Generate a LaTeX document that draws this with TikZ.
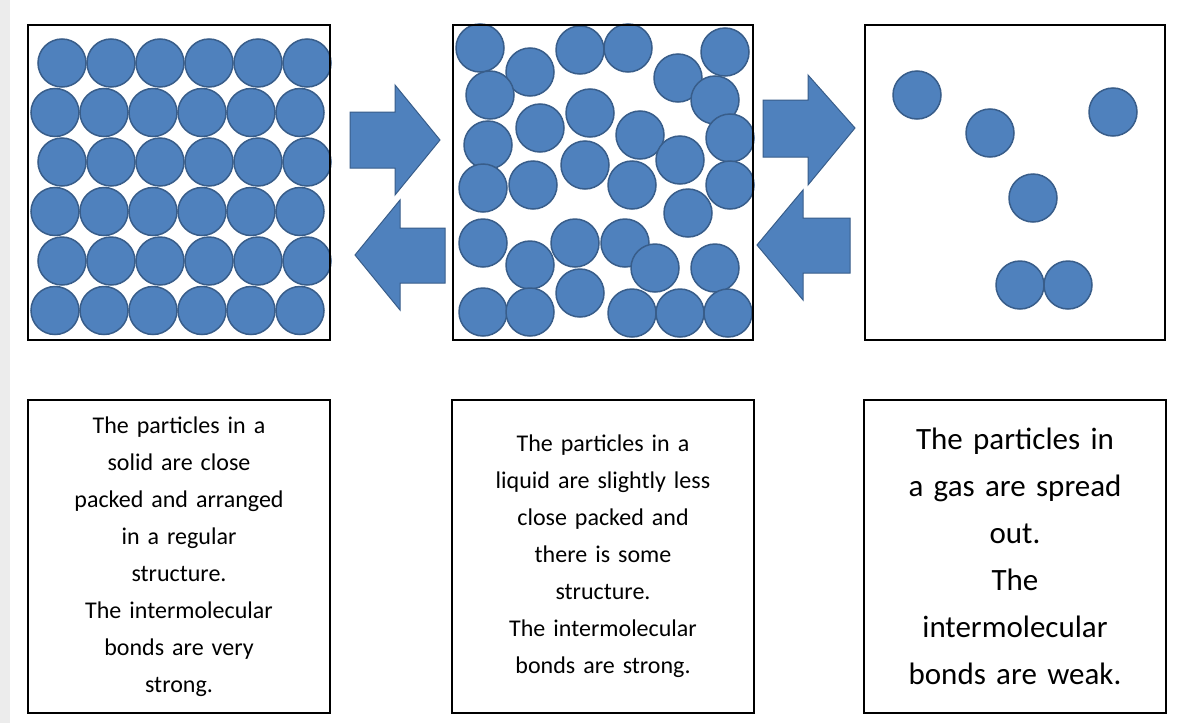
\documentclass[tikz,border=0pt]{standalone}
\usepackage{fontspec}
\setmainfont{Carlito}
\definecolor{partfill}{HTML}{4F81BD}
\definecolor{partedge}{HTML}{385D8A}
\tikzset{
  particle/.style={fill=partfill, draw=partedge, line width=1.5pt},
  bigarrow/.style={fill=partfill, draw=partedge, line width=1pt},
  panel/.style={draw=black, line width=2pt},
  infobox/.style={draw=black, line width=2pt, minimum width=302pt, minimum height=313pt, align=center, inner sep=4pt}
}
\begin{document}
\begin{tikzpicture}[x=1pt,y=-1pt]
\useasboundingbox (0,0) rectangle (1191,723);
\fill[white] (0,0) rectangle (1191,723);
\fill[gray!15] (0,0) rectangle (10,723);

% Solid
\foreach \r in {0,...,5}{
  \pgfmathsetmacro{\off}{mod(\r,2)==0 ? 7 : 0}
  \foreach \c in {0,...,5}{
    \fill[particle] (55+\off+49*\c, 63+49.5*\r) circle (24);
  }
}
\draw[panel] (28,25) rectangle (330,340);

% Liquid
\foreach \px/\py in {480/48,530/72,580/50,628/48,725/52,678/78,490/95,715/100,540/128,
  590/113,640/135,730/138,488/145,680/160,585/165,632/185,533/185,483/188,730/185,
  688/213,483/243,575/243,625/243,530/265,655/268,715/268,580/293,483/312,530/312,
  632/313,680/313,728/313}{
  \fill[particle] (\px,\py) circle (24);
}
\draw[panel] (453,25) rectangle (753,340);

% Gas
\foreach \px/\py in {917/95,990/133,1113/112,1033/198,1020/285,1068/285}{
  \fill[particle] (\px,\py) circle (24);
}
\draw[panel] (865,25) rectangle (1165,340);

% Arrows
\filldraw[bigarrow] (350,112) -- (395,112) -- (395,85) -- (440,140) -- (395,195) -- (395,168) -- (350,168) -- cycle;
\filldraw[bigarrow] (445,228) -- (400,228) -- (400,200) -- (355,255) -- (400,310) -- (400,283) -- (445,283) -- cycle;
\filldraw[bigarrow] (763,100) -- (808,100) -- (808,75) -- (855,128) -- (808,185) -- (808,157) -- (763,157) -- cycle;
\filldraw[bigarrow] (850,218) -- (803,218) -- (803,190) -- (757,245) -- (803,300) -- (803,273) -- (850,273) -- cycle;

% Text boxes
\node[infobox, text width=260pt, font=\fontsize{24}{37}\selectfont] (solidtxt) at (179,556.5)
  {The particles in a\\solid are close\\packed and arranged\\in a regular\\structure.\\The intermolecular\\bonds are very\\strong.};
\node[infobox, text width=270pt, font=\fontsize{24}{37}\selectfont] (liquidtxt) at (603,556.5)
  {The particles in a\\liquid are slightly less\\close packed and\\there is some\\structure.\\The intermolecular\\bonds are strong.};
\node[infobox, text width=280pt, font=\fontsize{31}{47}\selectfont] (gastxt) at (1015,556.5)
  {The particles in\\a gas are spread\\out.\\The\\intermolecular\\bonds are weak.};
\end{tikzpicture}
\end{document}
